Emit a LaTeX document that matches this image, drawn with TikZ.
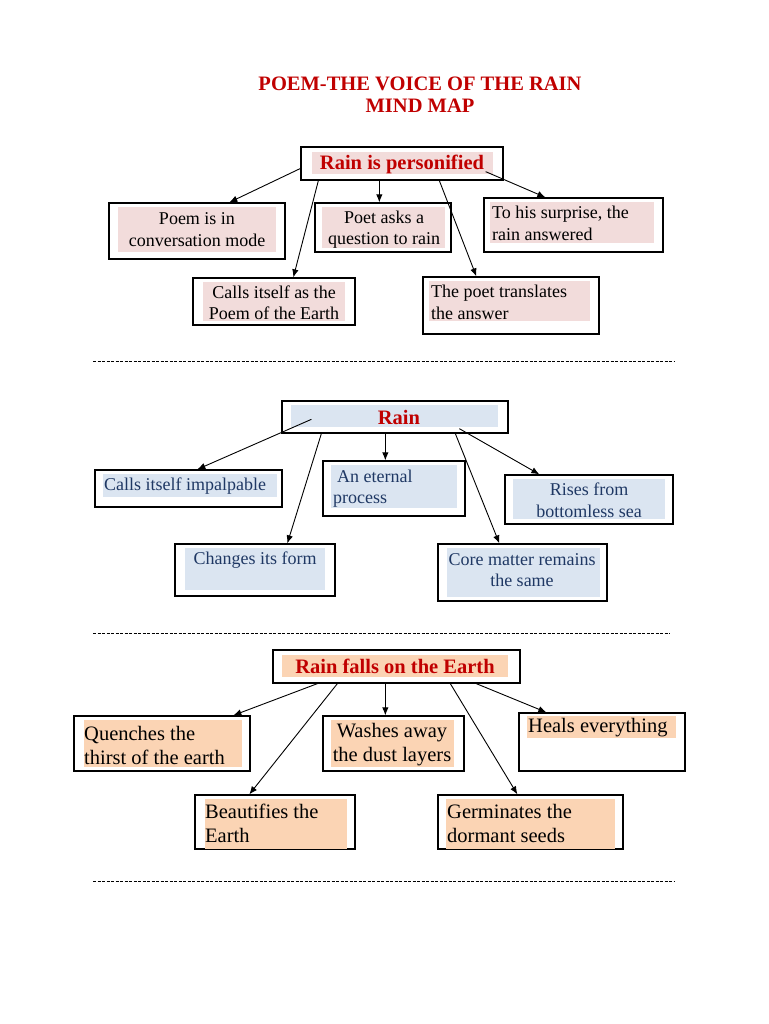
\documentclass[tikz,border=0pt]{standalone}
\usepackage{fontspec}
\setmainfont{Liberation Serif}
\usetikzlibrary{arrows.meta,calc}
\definecolor{titlered}{HTML}{C00000}
\definecolor{pinkc}{HTML}{F2DCDB}
\definecolor{bluec}{HTML}{DBE5F1}
\definecolor{peachc}{HTML}{FBD4B4}
\definecolor{navy}{HTML}{1F3864}
\newcommand{\rbox}[6]{\node[#6, minimum width={(#4)-(#2)}, minimum height={(#5)-(#3)}] (#1) at ({((#2)+(#4))/2},{((#3)+(#5))/2}) {};}
\begin{document}
\begin{tikzpicture}[x=1pt,y=-1pt,
 box/.style={draw=black, line width=1.3pt, inner sep=0pt, fill=white},
 shade/.style={inner sep=0pt, draw=none},
 txt/.style={inner sep=0pt, align=center, font=\fontsize{18}{21.5}\selectfont},
 ltxt/.style={inner sep=0pt, align=left, anchor=west, font=\fontsize{18}{21.5}\selectfont},
 btxt/.style={inner sep=0pt, align=center, font=\fontsize{20.5}{24}\selectfont},
 bltxt/.style={inner sep=0pt, align=left, anchor=west, font=\fontsize{20.5}{24}\selectfont},
 head/.style={inner sep=0pt, font=\bfseries\fontsize{20.5}{22}\selectfont, text=titlered},
 arr/.style={-{Latex[length=8pt,width=6.5pt]}, line width=0.9pt},
 sepline/.style={line width=0.8pt, dash pattern=on 3pt off 1.5pt}
]
\useasboundingbox (0,0) rectangle (768,1024);
\fill[white] (0,0) rectangle (768,1024);

% title
\node[head, align=center] (title) at (420,95) {POEM-THE VOICE OF THE RAIN\\MIND MAP};

% ---------- section 1 ----------
\rbox{r1}{301}{147}{503}{180}{box}
\rbox{r1f}{312}{152}{493}{174}{shade,fill=pinkc}
\node[head] (r1t) at (402,164.5) {Rain is personified};

\rbox{a1}{109}{203}{285}{259}{box}
\rbox{a1f}{118}{207}{276}{252}{shade,fill=pinkc}
\node[txt] (a1t) at (197,229.5) {Poem is in\\conversation mode};

\rbox{a2}{315}{203}{451}{252}{box}
\rbox{a2f}{322}{207}{445}{248}{shade,fill=pinkc}
\node[txt] (a2t) at (384,229.5) {Poet asks a\\question to rain};

\rbox{a3}{484}{198}{663}{252}{box}
\rbox{a3f}{490}{202}{654}{243}{shade,fill=pinkc}
\node[ltxt] (a3t) at (492,223.5) {To his surprise, the\\rain answered};

\rbox{a4}{193}{278}{355}{325}{box}
\rbox{a4f}{203}{282}{345}{321}{shade,fill=pinkc}
\node[txt] (a4t) at (274,302.5) {Calls itself as the\\Poem of the Earth};

\rbox{a5}{423}{277}{599}{334}{box}
\rbox{a5f}{429}{281}{590}{321}{shade,fill=pinkc}
\node[ltxt] (a5t) at (431,302.5) {The poet translates\\the answer};

\draw[arr] ([yshift=-5pt]r1.west) -- ([xshift=121pt]a1.north west);
\draw[arr] ([xshift=18pt]r1.south west) -- ([xshift=101pt]a4.north west);
\draw[arr] ([xshift=79pt]r1.south west) -- ([xshift=65pt]a2.north west);
\draw[arr] ([xshift=139pt]r1.south west) -- ([xshift=54pt]a5.north west);
\draw[arr] ([xshift=-18pt,yshift=9pt]r1.south east) -- ([xshift=62pt]a3.north west);

\coordinate (s1a) at (93,361);
\coordinate (s1b) at (675,361);
\draw[sepline] (s1a) -- (s1b);

% ---------- section 2 ----------
\rbox{r2}{282}{401}{508}{433}{box}
\rbox{r2f}{291}{405}{498}{427}{shade,fill=bluec}
\node[head] (r2t) at (399,417.5) {Rain};

\rbox{b1}{95}{470}{282}{507}{box}
\rbox{b1f}{103}{474}{277}{497}{shade,fill=bluec}
\node[ltxt, text=navy] (b1t) at (104,486.5) {Calls itself impalpable};

\rbox{b2}{323}{461}{465}{516}{box}
\rbox{b2f}{331}{465}{457}{508}{shade,fill=bluec}
\node[ltxt, text=navy] (b2t) at (333,488.5) {\hspace{4pt}An eternal\\process};

\rbox{b3}{505}{475}{673}{524}{box}
\rbox{b3f}{513}{479}{665}{519}{shade,fill=bluec}
\node[txt, text=navy] (b3t) at (589,500) {Rises from\\bottomless sea};

\rbox{b4}{175}{544}{335}{596}{box}
\rbox{b4f}{185}{548}{325}{590}{shade,fill=bluec}
\node[txt, text=navy] (b4t) at (255,560) {Changes its form};

\rbox{b5}{438}{544}{607}{601}{box}
\rbox{b5f}{447}{548}{600}{597}{shade,fill=bluec}
\node[txt, text=navy] (b5t) at (522,570) {Core matter remains\\the same};

\draw[arr] ([xshift=30pt,yshift=-19pt]r2.north west) -- ([xshift=103pt]b1.north west);
\draw[arr] ([xshift=40pt]r2.south west) -- ([xshift=113pt]b4.north west);
\draw[arr] ([xshift=104pt]r2.south west) -- ([xshift=63pt]b2.north west);
\draw[arr] ([xshift=174pt]r2.south west) -- ([xshift=62pt]b5.north west);
\draw[arr] ([xshift=178pt,yshift=5pt]r2.south west) -- ([xshift=35pt]b3.north west);

\coordinate (s2a) at (93,633);
\coordinate (s2b) at (670,633);
\draw[sepline] (s2a) -- (s2b);

% ---------- section 3 ----------
\rbox{r3}{273}{650}{520}{683}{box}
\rbox{r3f}{282}{655}{508}{677}{shade,fill=peachc}
\node[head] (r3t) at (395,666.5) {Rain falls on the Earth};

\rbox{c1}{74}{716}{250}{771}{box}
\rbox{c1f}{84}{720}{242}{767}{shade,fill=peachc}
\node[bltxt] (c1t) at (84,745) {Quenches the\\thirst of the earth};

\rbox{c2}{323}{716}{464}{771}{box}
\rbox{c2f}{331}{720}{454}{767}{shade,fill=peachc}
\node[btxt] (c2t) at (392,745) {Washes away\\the dust layers};

\rbox{c3}{519}{713}{685}{771}{box}
\rbox{c3f}{527}{716}{676}{738}{shade,fill=peachc}
\node[bltxt] (c3t) at (528,728) {Heals everything};

\rbox{c4}{195}{795}{355}{849}{box}
\rbox{c4f}{205}{799}{347}{849}{shade,fill=peachc}
\node[bltxt] (c4t) at (205,823) {Beautifies the\\Earth};

\rbox{c5}{438}{795}{623}{849}{box}
\rbox{c5f}{446}{799}{615}{849}{shade,fill=peachc}
\node[bltxt] (c5t) at (447,823) {Germinates the\\dormant seeds};

\draw[arr] ([xshift=45pt]r3.south west) -- ([xshift=160pt]c1.north west);
\draw[arr] ([xshift=65pt]r3.south west) -- ([xshift=55pt]c4.north west);
\draw[arr] ([xshift=113pt]r3.south west) -- ([xshift=63pt]c2.north west);
\draw[arr] ([xshift=178pt]r3.south west) -- ([xshift=80pt]c5.north west);
\draw[arr] ([xshift=204pt]r3.south west) -- ([xshift=28pt]c3.north west);

\coordinate (s3a) at (93,881);
\coordinate (s3b) at (675,881);
\draw[sepline] (s3a) -- (s3b);
\end{tikzpicture}
\end{document}
